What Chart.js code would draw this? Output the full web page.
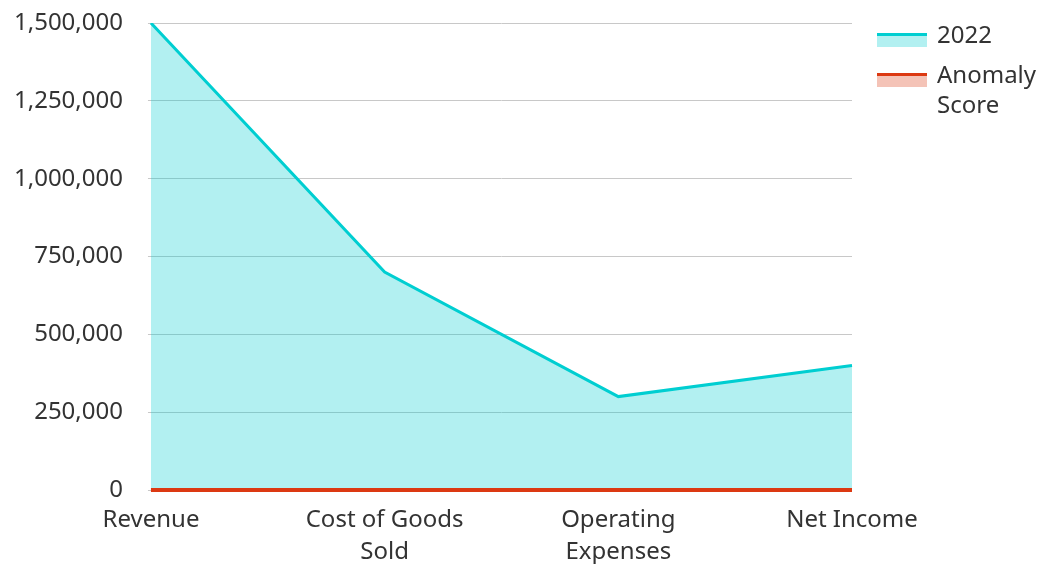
<!DOCTYPE html>
<html>
<head>
<meta charset="utf-8">
<script src="https://cdn.jsdelivr.net/npm/chart.js@4/dist/chart.umd.min.js"></script>
<style>
  html, body { margin: 0; padding: 0; background: #fff; }
  #wrap { position: relative; width: 1042px; height: 564px; }
  #legend { position: absolute; left: 877px; top: 19px; font-family: "Noto Sans", sans-serif; font-size: 24px; color: #333; }
  .item { display: flex; align-items: flex-start; margin-bottom: 10px; }
  .box { width: 50px; height: 14px; margin-top: 14px; margin-right: 10px; box-sizing: border-box; }
  .txt { line-height: 30px; }
</style>
</head>
<body>
<div id="wrap">
  <canvas id="c" width="1042" height="564"></canvas>
  <div id="legend"></div>
</div>
<script>
const categories = [["Revenue"], ["Cost of Goods", "Sold"], ["Operating", "Expenses"], ["Net Income"]];
const values2022 = [1500000, 700000, 300000, 400000];
const anomalyScore = [0, 0, 0, 0];
const yTicks = [0, 250000, 500000, 750000, 1000000, 1250000, 1500000];
const seriesNames = ["2022", ["Anomaly", "Score"]];

const tealLine = "#00CED1";
const tealFill = "rgba(0,206,209,0.3)";
const redLine = "#DC3912";
const redFill = "rgba(220,57,18,0.3)";

const ctx = document.getElementById("c").getContext("2d");
new Chart(ctx, {
  type: "line",
  data: {
    labels: categories,
    datasets: [
      { label: "2022", data: values2022, borderColor: tealLine, backgroundColor: tealFill, borderWidth: 3, fill: "origin", pointRadius: 0, tension: 0, order: 2 },
      { label: "Anomaly Score", data: anomalyScore, borderColor: redLine, backgroundColor: redFill, borderWidth: 4, fill: "origin", pointRadius: 0, tension: 0, order: 1, clip: false }
    ]
  },
  options: {
    responsive: false,
    animation: false,
    layout: { padding: { left: -11, right: 190, top: 0, bottom: 0 } },
    plugins: { legend: { display: false }, tooltip: { enabled: false } },
    scales: {
      x: {
        offset: false,
        grid: { display: false, drawTicks: false },
        border: { display: false },
        ticks: { color: "#333", font: { family: "Noto Sans", size: 24, lineHeight: 1.3 }, maxRotation: 0, autoSkip: false, padding: 15 },
        afterFit: (axis) => { axis.height = 74; }
      },
      y: {
        min: 0, max: 1500000,
        afterBuildTicks: (axis) => { axis.ticks = yTicks.map(v => ({ value: v })); },
        afterFit: (axis) => { axis.paddingTop = 23; axis.paddingBottom = 0; },
        grid: { color: "#c8c8c8", lineWidth: 1, tickLength: 3 },
        border: { display: false },
        ticks: { color: "#333", font: { family: "Noto Sans", size: 24 }, padding: 25,
          callback: (v) => v.toLocaleString("en-US") }
      }
    }
  }
});

const legend = document.getElementById("legend");
const cols = [[tealLine, tealFill], [redLine, redFill]];
seriesNames.forEach((name, i) => {
  const item = document.createElement("div"); item.className = "item";
  const box = document.createElement("div"); box.className = "box";
  box.style.background = cols[i][1]; box.style.borderTop = "3px solid " + cols[i][0];
  const t = document.createElement("div"); t.className = "txt";
  t.innerHTML = Array.isArray(name) ? name.join("<br>") : name;
  item.appendChild(box); item.appendChild(t); legend.appendChild(item);
});
</script>
</body>
</html>
